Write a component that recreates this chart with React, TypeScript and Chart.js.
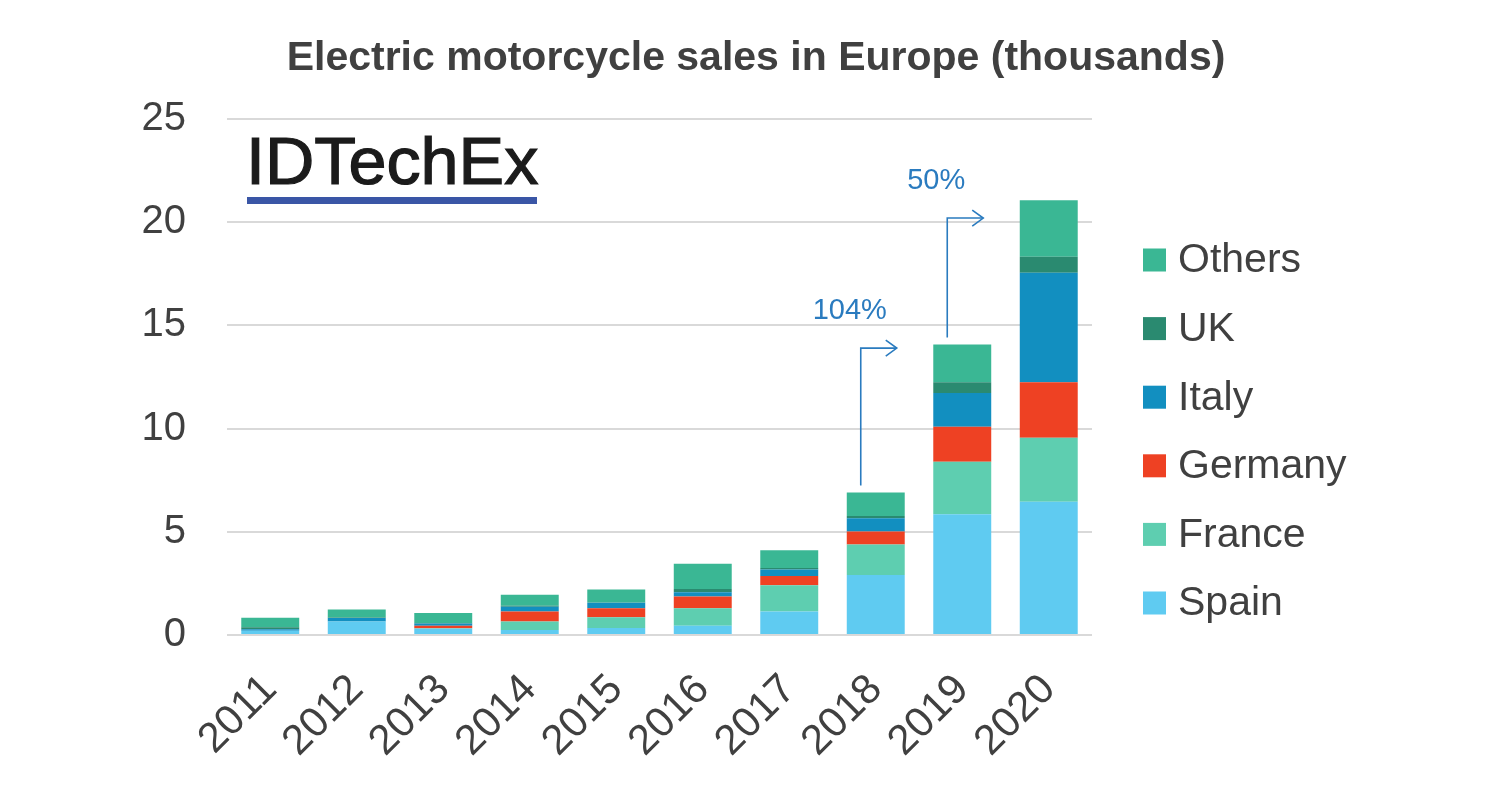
import React, { useEffect, useRef } from 'react';
import { Chart, registerables } from 'chart.js';

Chart.register(...registerables);

// Sales by country, thousands of units, stacked bottom to top
const years = ['2011', '2012', '2013', '2014', '2015', '2016', '2017', '2018', '2019', '2020'];
const spain = [0.2, 0.66, 0.3, 0.24, 0.34, 0.45, 1.14, 2.91, 5.85, 6.45];
const france = [0.0, 0.0, 0.03, 0.42, 0.52, 0.84, 1.27, 1.47, 2.54, 3.11];
const germany = [0.0, 0.0, 0.12, 0.48, 0.44, 0.57, 0.45, 0.64, 1.7, 2.68];
const italy = [0.08, 0.16, 0.11, 0.23, 0.26, 0.21, 0.31, 0.64, 1.64, 5.31];
const uk = [0.1, 0.03, 0.02, 0.05, 0.02, 0.16, 0.08, 0.1, 0.52, 0.78];
const others = [0.45, 0.39, 0.48, 0.53, 0.63, 1.22, 0.86, 1.14, 1.82, 2.73];

const seriesNames = ['Spain', 'France', 'Germany', 'Italy', 'UK', 'Others'];
const seriesValues = [spain, france, germany, italy, uk, others];
const seriesColors = ['#5FCBF1', '#5ECEB0', '#EE4123', '#128FC0', '#2A8A70', '#3AB794'];

const yTickStep = 5;
const yMax = 25;

// Year-on-year growth callouts
const growthLabels = ['104%', '50%'];
const growthFromYears = ['2018', '2019'];
const growthArrowLevels = [13.9, 20.2];

const TITLE = 'Electric motorcycle sales in Europe (thousands)';
const FONT = '"Liberation Sans", Arial, Helvetica, sans-serif';
const TEXT_COLOR = '#404040';
const CALLOUT_COLOR = '#2A7BBF';

const overlayPlugin = {
  id: 'overlay',
  afterDraw(chart: any) {
    const { ctx, scales } = chart;
    const xs = scales.x;
    const ys = scales.y;
    ctx.save();

    // Title
    ctx.fillStyle = TEXT_COLOR;
    ctx.font = `bold 41px ${FONT}`;
    ctx.textAlign = 'center';
    ctx.textBaseline = 'alphabetic';
    ctx.fillText(TITLE, 756, 70);

    // Brand mark
    ctx.save();
    ctx.translate(246, 184);
    ctx.scale(1.035, 1);
    ctx.fillStyle = '#1B1B1B';
    ctx.strokeStyle = '#1B1B1B';
    ctx.lineWidth = 1.2;
    ctx.font = `66px ${FONT}`;
    ctx.textAlign = 'left';
    ctx.fillText('IDTechEx', 0, 0);
    ctx.strokeText('IDTechEx', 0, 0);
    ctx.restore();
    ctx.fillStyle = '#3A56A6';
    ctx.fillRect(247, 197, 290, 7);

    // Legend, top entry is the top of the stack
    const ds = chart.data.datasets;
    ctx.font = `41px ${FONT}`;
    ctx.textAlign = 'left';
    ctx.textBaseline = 'middle';
    for (let k = 0; k < ds.length; k++) {
      const d = ds[ds.length - 1 - k];
      const cy = 260 + k * 68.6;
      ctx.fillStyle = d.backgroundColor;
      ctx.fillRect(1143, cy - 11.5, 23, 23);
      ctx.fillStyle = TEXT_COLOR;
      ctx.fillText(d.label, 1178, cy + 1);
    }

    // Growth arrows
    ctx.strokeStyle = CALLOUT_COLOR;
    ctx.fillStyle = CALLOUT_COLOR;
    ctx.lineWidth = 1.6;
    ctx.font = `29px ${FONT}`;
    ctx.textAlign = 'center';
    ctx.textBaseline = 'alphabetic';
    growthFromYears.forEach((yr, i) => {
      const idx = years.indexOf(yr);
      const cx = xs.getPixelForValue(idx);
      let total = 0;
      for (const d of ds) total += d.data[idx];
      const bottom = ys.getPixelForValue(total) - 7;
      const hy = ys.getPixelForValue(growthArrowLevels[i]);
      const vx = cx - 15;
      const ex = cx + 21;
      ctx.beginPath();
      ctx.moveTo(vx, bottom);
      ctx.lineTo(vx, hy);
      ctx.lineTo(ex, hy);
      ctx.stroke();
      ctx.beginPath();
      ctx.moveTo(ex - 11, hy - 8);
      ctx.lineTo(ex, hy);
      ctx.lineTo(ex - 11, hy + 8);
      ctx.stroke();
      ctx.fillText(growthLabels[i], cx - 26, hy - 29);
    });

    ctx.restore();
  },
};

export default function App() {
  const canvasRef = useRef<HTMLCanvasElement | null>(null);

  useEffect(() => {
    if (!canvasRef.current) return;
    const chart = new Chart(canvasRef.current, {
      type: 'bar',
      data: {
        labels: years,
        datasets: seriesNames.map((name, i) => ({
          label: name,
          data: seriesValues[i],
          backgroundColor: seriesColors[i],
          borderWidth: 0,
          categoryPercentage: 1,
          barPercentage: 0.67,
        })),
      },
      options: {
        responsive: false,
        animation: false,
        devicePixelRatio: 1,
        layout: { padding: { top: 119, right: 408, left: 0, bottom: 0 } },
        plugins: {
          legend: { display: false },
          title: { display: false },
          tooltip: { enabled: false },
        },
        scales: {
          x: {
            stacked: true,
            grid: { display: false, drawTicks: false },
            border: { display: false },
            ticks: {
              color: TEXT_COLOR,
              font: { size: 42, family: FONT },
              minRotation: 45,
              maxRotation: 45,
              autoSkip: false,
              padding: 30,
            },
            afterFit: (s: any) => {
              s.height = 150;
            },
          },
          y: {
            stacked: true,
            min: 0,
            max: yMax,
            grid: { color: '#D9D9D9', lineWidth: 2, drawTicks: false },
            border: { display: false },
            ticks: {
              stepSize: yTickStep,
              color: TEXT_COLOR,
              font: { size: 40, family: FONT },
              padding: 41,
            },
            afterFit: (s: any) => {
              s.width = 227;
            },
          },
        },
      },
      plugins: [overlayPlugin],
    });
    return () => chart.destroy();
  }, []);

  return (
    <div style={{ position: 'absolute', left: 0, top: 0, width: 1500, height: 785, background: '#fff' }}>
      <canvas ref={canvasRef} width={1500} height={785} style={{ display: 'block' }} />
    </div>
  );
}
